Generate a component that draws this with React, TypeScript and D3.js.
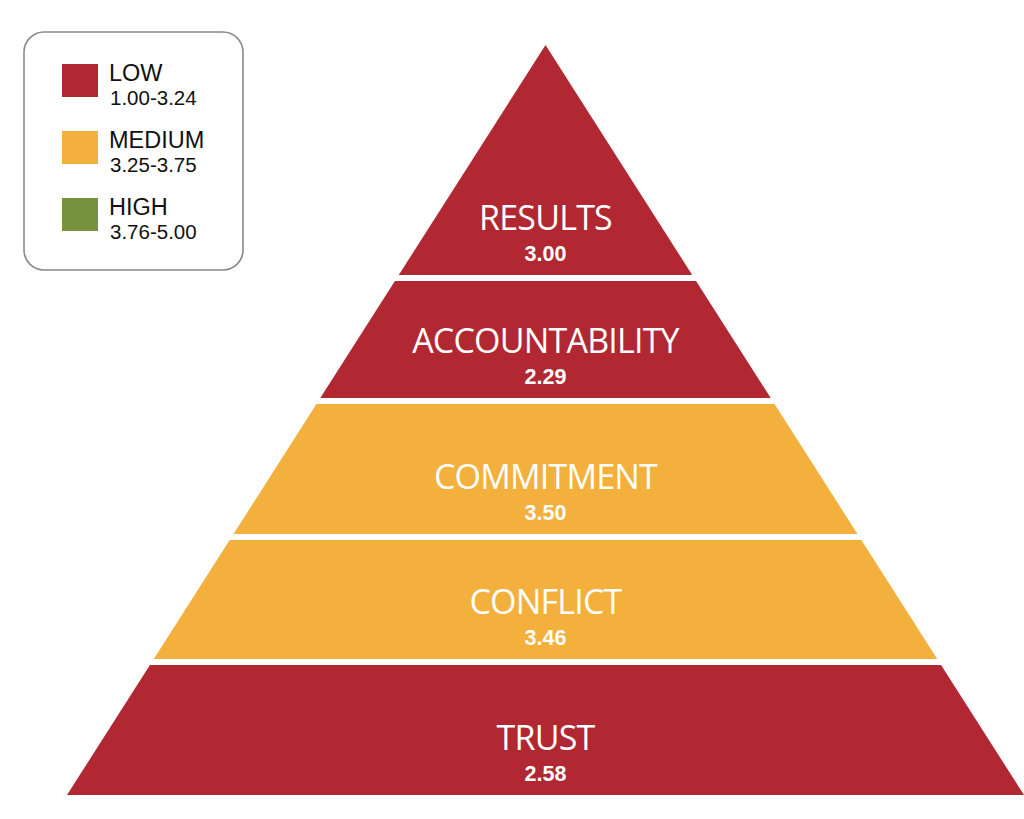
import React, { useEffect, useRef } from 'react';
import * as d3 from 'd3';

// Pyramid levels, top to bottom
const levels = ['RESULTS', 'ACCOUNTABILITY', 'COMMITMENT', 'CONFLICT', 'TRUST'];
const scores = [3.0, 2.29, 3.5, 3.46, 2.58];

// Legend ranges
const legendNames = ['LOW', 'MEDIUM', 'HIGH'];
const legendRanges = ['1.00-3.24', '3.25-3.75', '3.76-5.00'];
const thresholds = [3.25, 3.76];
const legendColors = ['#b12832', '#f3b03c', '#77923f'];

// Relative heights of each band (layout only)
const rowWeights = [233, 123, 136, 125, 133];

const W = 1024;
const H = 819;

const App: React.FC = () => {
  const svgRef = useRef<SVGSVGElement>(null);

  useEffect(() => {
    if (!svgRef.current) return;
    const svg = d3.select(svgRef.current);
    svg.selectAll('*').remove();

    const color = d3.scaleThreshold<number, string>().domain(thresholds).range(legendColors);

    // pyramid frame
    const apexX = 545.5;
    const top = 45;
    const bottom = 795;
    const baseHalf = 478.5;
    const gap = 6;

    const cum = d3.cumsum(rowWeights);
    const total = cum[cum.length - 1];
    const yScale = d3.scaleLinear().domain([0, total]).range([top, bottom]);
    const half = d3.scaleLinear().domain([top, bottom]).range([0, baseHalf]);

    const bands = levels.map((name, i) => {
      const y0 = i === 0 ? top : yScale(cum[i - 1]) + gap / 2;
      const y1 = i === levels.length - 1 ? bottom : yScale(cum[i]) - gap / 2;
      return { name, score: scores[i], y0, y1 };
    });

    const line = d3.line<[number, number]>();
    const g = svg.append('g');

    g.selectAll('path')
      .data(bands)
      .enter()
      .append('path')
      .attr('d', d => {
        const pts: [number, number][] = [
          [apexX - half(d.y0), d.y0],
          [apexX + half(d.y0), d.y0],
          [apexX + half(d.y1), d.y1],
          [apexX - half(d.y1), d.y1],
        ];
        return line(pts) + 'Z';
      })
      .attr('fill', d => color(d.score));

    g.selectAll('text.lbl')
      .data(bands)
      .enter()
      .append('text')
      .attr('class', 'lbl')
      .attr('x', apexX)
      .attr('y', d => d.y1 - 45)
      .attr('text-anchor', 'middle')
      .attr('fill', '#ffffff')
      .attr('font-family', '"Open Sans", sans-serif')
      .attr('font-size', 34)
      .attr('letter-spacing', -0.8)
      .text(d => d.name);

    g.selectAll('text.val')
      .data(bands)
      .enter()
      .append('text')
      .attr('class', 'val')
      .attr('x', apexX)
      .attr('y', d => d.y1 - 14)
      .attr('text-anchor', 'middle')
      .attr('fill', '#ffffff')
      .attr('font-family', '"Liberation Sans", Arial, sans-serif')
      .attr('font-weight', 'bold')
      .attr('font-size', 21.5)
      .text(d => d.score.toFixed(2));

    // legend
    const lg = svg.append('g');
    lg.append('rect')
      .attr('x', 24)
      .attr('y', 32)
      .attr('width', 219)
      .attr('height', 238)
      .attr('rx', 20)
      .attr('fill', '#ffffff')
      .attr('stroke', '#8a8a8a')
      .attr('stroke-width', 1.6);

    const rowY = d3.scalePoint<string>().domain(legendNames).range([81, 215]);

    const items = lg.selectAll('g.item')
      .data(legendNames)
      .enter()
      .append('g')
      .attr('class', 'item')
      .attr('transform', d => `translate(0,${rowY(d)})`);

    items.append('rect')
      .attr('x', 62)
      .attr('y', -17)
      .attr('width', 36)
      .attr('height', 33)
      .attr('fill', (d, i) => legendColors[i]);

    items.append('text')
      .attr('x', 109)
      .attr('y', 0)
      .attr('font-family', '"Liberation Sans", Arial, sans-serif')
      .attr('font-size', 23.5)
      .attr('fill', '#111')
      .text(d => d);

    items.append('text')
      .attr('x', 110)
      .attr('y', 24)
      .attr('font-family', '"Liberation Sans", Arial, sans-serif')
      .attr('font-size', 20.5)
      .attr('fill', '#111')
      .text((d, i) => legendRanges[i]);
  }, []);

  return (
    <svg
      ref={svgRef}
      width={W}
      height={H}
      style={{ position: 'absolute', left: 0, top: 0, background: '#ffffff' }}
    />
  );
};

export default App;
